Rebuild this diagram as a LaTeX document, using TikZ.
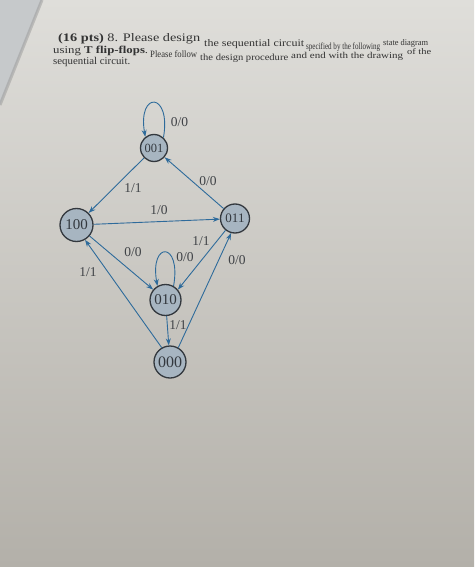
\documentclass[tikz,border=0pt]{standalone}
\usepackage{fontspec}
\setmainfont{Liberation Serif}
\usepackage{graphicx}
\usetikzlibrary{arrows.meta,shadings}
\definecolor{paperTop}{HTML}{DFDEDA}
\definecolor{paperMid}{HTML}{CFCDC8}
\definecolor{paperBot}{HTML}{B3B0A9}
\definecolor{corner}{HTML}{C6C9CB}
\definecolor{ink}{HTML}{333333}
\definecolor{stfill}{HTML}{A7B5C1}
\definecolor{stline}{HTML}{33383E}
\definecolor{arr}{HTML}{2E6B9B}
\definecolor{lab}{HTML}{404347}
\tikzset{
  state/.style={circle, draw=stline, line width=1.3pt, fill=stfill, inner sep=0pt, text=stline},
  trans/.style={draw=arr, line width=0.9pt, -{Stealth[length=7pt,width=5pt]}},
  lbl/.style={text=lab, font=\fontsize{13.5}{13.5}\selectfont, inner sep=0pt},
  seg/.style={anchor=base west, inner sep=0pt, text=ink},
}
\begin{document}
\begin{tikzpicture}[x=1pt,y=-1pt]
\useasboundingbox (0,0) rectangle (474,567);
\shade[top color=paperTop, middle color=paperMid, bottom color=paperBot] (0,0) rectangle (474,567);
\fill[corner] (0,0) -- (42,0) -- (0,105) -- cycle;
\draw[line width=3pt, color=black!40, opacity=0.5] (42,0) -- (0,105);

% title text (baselines)
\node[seg] (t1) at (58,42) {\resizebox{142pt}{8pt}{\textbf{(16 pts)} 8. Please design}};
\node[seg] (t2) at (204,47) {\resizebox{100pt}{7pt}{the sequential circuit}};
\node[seg] (t3) at (306,49.5) {\resizebox{74pt}{6.6pt}{specified by the following}};
\node[seg] (t4) at (383,45.5) {\resizebox{45pt}{6pt}{state diagram}};
\node[seg] (t5) at (53,54) {\resizebox{95pt}{7.4pt}{using \textbf{T flip-flops}.}};
\node[seg] (t6) at (150,58) {\resizebox{47pt}{6.8pt}{Please follow}};
\node[seg] (t7) at (200,61) {\resizebox{88pt}{6.5pt}{the design procedure}};
\node[seg] (t8) at (291,58.5) {\resizebox{112pt}{6.2pt}{and end with the drawing}};
\node[seg] (t9) at (407,55) {\resizebox{24pt}{6pt}{of the}};
\node[seg] (t10) at (53,65) {\resizebox{77pt}{7.2pt}{sequential circuit.}};

% states
\node[state, minimum size=27pt, font=\fontsize{12.5}{12.5}\selectfont] (s001) at (154,148) {001};
\node[state, minimum size=29pt, font=\fontsize{13}{13}\selectfont] (s011) at (235,218.5) {011};
\node[state, minimum size=33pt, font=\fontsize{15}{15}\selectfont] (s100) at (76.5,225) {100};
\node[state, minimum size=31pt, font=\fontsize{15}{15}\selectfont] (s010) at (165.5,300) {010};
\node[state, minimum size=32pt, font=\fontsize{16}{16}\selectfont] (s000) at (170,362) {000};

% transitions
\draw[trans] (s001.48) .. controls +(8,-46) and +(-8,-46) .. (s001.128);
\draw[trans] (s001) -- (s100);
\draw[trans] (s011) -- (s001);
\draw[trans] (s100) -- (s011);
\draw[trans] (s100) -- (s010);
\draw[trans] (s011) -- (s010.40);
\draw[trans] (s010.60) .. controls +(8,-45) and +(-8,-45) .. (s010.120);
\draw[trans] (s010) -- (s000);
\draw[trans] (s000.120) -- (s100.-60);
\draw[trans] (s000.60) -- (s011.-105);

% labels
\node[lbl] (l1) at (179.5,122) {0/0};
\node[lbl] (l2) at (133,188) {1/1};
\node[lbl] (l3) at (208,181) {0/0};
\node[lbl] (l4) at (159,210) {1/0};
\node[lbl] (l5) at (133,252) {0/0};
\node[lbl] (l6) at (185,257) {0/0};
\node[lbl] (l7) at (201,241) {1/1};
\node[lbl] (l8) at (237,260) {0/0};
\node[lbl] (l9) at (88,272) {1/1};
\node[lbl] (l10) at (178,325) {1/1};
\end{tikzpicture}
\end{document}
